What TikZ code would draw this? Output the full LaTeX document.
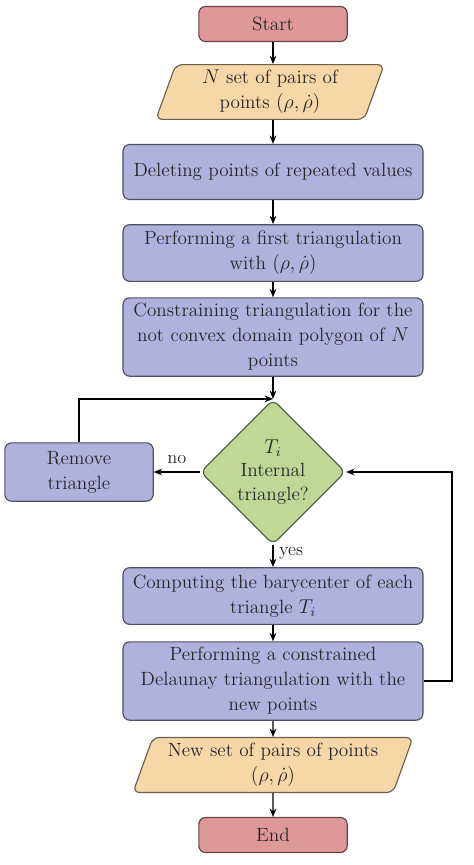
\documentclass[tikz,border=0pt]{standalone}
\usetikzlibrary{shapes.geometric,arrows.meta}

\definecolor{termfill}{RGB}{223,152,152}
\definecolor{iofill}{RGB}{245,215,168}
\definecolor{procfill}{RGB}{177,177,221}
\definecolor{decfill}{RGB}{192,215,152}

\newcommand\flowtextstyle{\fontsize{11.5}{15}\selectfont}
\newcommand\flowboxwidth{180pt}

\tikzset{
  flowterm/.style={rectangle, rounded corners=4pt, draw=termfill!45!black, fill=termfill,
    minimum width=89pt, minimum height=21pt, line width=0.7pt, font=\flowtextstyle},
  flowio/.style={trapezium, trapezium left angle=70, trapezium right angle=110,
    trapezium stretches body, rounded corners=4pt, draw=iofill!45!black, fill=iofill,
    align=center, line width=0.7pt, font=\flowtextstyle},
  flowbox/.style={rectangle, rounded corners=4pt, draw=procfill!45!black, fill=procfill,
    minimum width=\flowboxwidth, align=center, line width=0.7pt, font=\flowtextstyle},
  flowdec/.style={diamond, aspect=1, rounded corners=4pt, draw=decfill!45!black, fill=decfill,
    minimum size=87pt, inner sep=-4pt, align=center, line width=0.7pt,
    font=\fontsize{11.5}{14}\selectfont},
  flowline/.style={-{Stealth[length=5pt,width=4pt]}, line width=0.8pt},
  flowlabel/.style={font=\fontsize{11}{13}\selectfont},
}

\begin{document}
\begin{tikzpicture}[x=0.6pt, y=-0.6pt, text=black!85]
  \useasboundingbox (0, 0) rectangle (474, 865);

  % main column
  \node[flowterm] (start) at (273, 24) {Start};
  \node[flowio, minimum width=137pt, minimum height=31pt] (input) at (270, 92)
    {$N$ set of pairs of\\points $(\rho,\dot{\rho})$};
  \node[flowbox, minimum height=33pt] (delete) at (273, 172) {Deleting points of repeated values};
  \node[flowbox, minimum height=34pt] (first) at (273, 253)
    {Performing a first triangulation\\with $(\rho,\dot{\rho})$};
  \node[flowbox, minimum height=47pt] (constr) at (273, 337)
    {Constraining triangulation for the\\not convex domain polygon of $N$\\points};
  \node[flowdec] (test) at (273, 472) {$T_i$\\Internal\\triangle?};
  \node[flowbox, minimum height=34pt] (bary) at (273, 596)
    {Computing the barycenter of each\\triangle $T_i$};
  \node[flowbox, minimum height=46pt] (delaunay) at (273, 681)
    {Performing a constrained\\Delaunay triangulation with the\\new points};
  \node[flowio, minimum width=168pt, minimum height=33pt] (output) at (273, 765)
    {New set of pairs of points\\$(\rho,\dot{\rho})$};
  \node[flowterm] (end) at (273, 835) {End};

  % side branch
  \node[flowbox, minimum width=89pt, minimum height=35pt] (remove) at (79, 472)
    {Remove\\triangle};
  \coordinate (back) at (452, 681);

  % connectors
  \draw[flowline] (start) -- (start |- input.north);
  \draw[flowline] (start |- input.south) -- (delete);
  \draw[flowline] (delete) -- (first);
  \draw[flowline] (first) -- (constr);
  \draw[flowline] (constr) -- (test);
  \draw[flowline] (test) -- node[flowlabel, above=1pt] {no} (remove);
  \draw[flowline] (remove.north) |- (test.north);
  \draw[flowline] (test) -- node[flowlabel, right, pos=0.35] {yes} (bary);
  \draw[flowline] (bary) -- (delaunay);
  \draw[flowline] (delaunay.east) -- (back) |- (test.east);
  \draw[flowline] (delaunay) -- (output);
  \draw[flowline] (output) -- (end);
\end{tikzpicture}
\end{document}
